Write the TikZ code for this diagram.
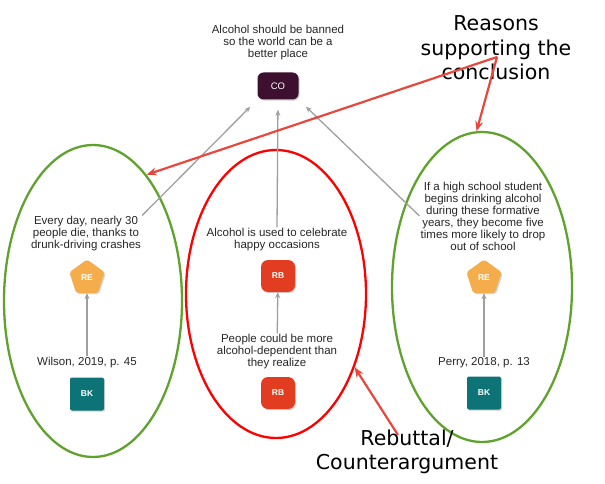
\documentclass[tikz,border=0pt]{standalone}
\usepackage{fontspec}
\setmainfont{Liberation Sans}
\newfontfamily\bigfont{DejaVu Sans}
\usetikzlibrary{arrows.meta,shapes.geometric,shadows}

\begin{document}
\begin{tikzpicture}[x=1pt, y=-1pt, >=Stealth,
    txt/.style={align=center, text=black!85, inner sep=1pt,
        font=\fontsize{11.5}{12}\selectfont},
    bigtxt/.style={align=center, font=\bigfont\fontsize{20.5}{24.5}\selectfont},
    badge/.style={text=white, inner sep=0pt, font=\bfseries\fontsize{8.5}{9}\selectfont,
        drop shadow={opacity=0.35, shadow xshift=1.2pt, shadow yshift=-1.2pt}},
    rebox/.style={badge, fill=colorRE, regular polygon, regular polygon sides=5,
        minimum size=37pt, rounded corners=2pt},
    rbbox/.style={badge, fill=colorRB, minimum width=34pt, minimum height=32pt, rounded corners=7pt},
    bkbox/.style={badge, fill=colorBK, minimum width=34pt, minimum height=33pt, rounded corners=2pt},
    group/.style={ellipse, draw=#1, line width=2.3pt, inner sep=0pt},
    conn/.style={->, draw=gray!75, line width=1.3pt, >={Stealth[length=6pt, width=5pt]}},
    callout/.style={->, draw=colorArrow, line width=2.2pt, >={Stealth[length=10pt, width=8pt]}}
]
    % Màu sắc
    \definecolor{colorCO}{RGB}{61, 16, 48}
    \definecolor{colorRE}{RGB}{245, 173, 75}
    \definecolor{colorRB}{RGB}{226, 61, 32}
    \definecolor{colorBK}{RGB}{14, 115, 118}
    \definecolor{colorGroup}{RGB}{95, 162, 46}
    \definecolor{colorArrow}{RGB}{232, 71, 62}

    \useasboundingbox (0,0) rectangle (605,484);

    % 1. Các nhóm (ellipse)
    \node[group=colorGroup, minimum width=178pt, minimum height=312pt] (ellL) at (93,301) {};
    \node[group=red, minimum width=180pt, minimum height=288pt] (ellM) at (276,294) {};
    \node[group=colorGroup, minimum width=180pt, minimum height=310pt] (ellR) at (482,287) {};

    % 2. Kết luận
    \node[txt] (claim) at (278,43) {Alcohol should be banned\\so the world can be a\\better place};
    \node[badge, fill=colorCO, minimum width=41pt, minimum height=27pt, rounded corners=6pt,
        font=\fontsize{9.5}{10}\selectfont] (co) at (278,86) {CO};

    % 3. Nhóm trái
    \node[txt] (everyL) at (86,234) {Every day, nearly 30\\people die, thanks to\\drunk-driving crashes};
    \node[rebox] (reL) at (87,278) {RE};
    \node[txt] (wilson) at (87,363) {Wilson, 2019, p. 45};
    \node[bkbox] (bkL) at (87,394) {BK};

    % 4. Nhóm giữa
    \node[txt] (celebrate) at (277,240) {Alcohol is used to celebrate\\happy occasions};
    \node[rbbox] (rbA) at (278,276) {RB};
    \node[txt] (people) at (277,352) {People could be more\\alcohol-dependent than\\they realize};
    \node[rbbox] (rbB) at (278,393) {RB};

    % 5. Nhóm phải
    \node[txt] (ifR) at (483,216) {If a high school student\\begins drinking alcohol\\during these formative\\years, they become five\\times more likely to drop\\out of school};
    \node[rebox] (reR) at (484,278) {RE};
    \node[txt] (perry) at (484,363) {Perry, 2018, p. 13};
    \node[bkbox] (bkR) at (484,393) {BK};

    % 6. Mũi tên xám
    \draw[conn] (wilson) -- (reL);
    \draw[conn] (people) -- (rbA);
    \draw[conn] (perry) -- (reR);
    \draw[conn, shorten >=10pt] (everyL.north east) -- (co.south west);
    \draw[conn, shorten >=10pt] (celebrate.north) -- (co.south);
    \draw[conn, shorten >=10pt] (ifR.west) -- (co.south east);

    % 7. Chú thích lớn
    \node[bigtxt] (reasons) at (496,48) {Reasons\\supporting the\\conclusion};
    \node[bigtxt] (rebuttal) at (407,452) {Rebuttal/\\Counterargument};
    \coordinate (reasonsTip) at (497,57);
    \coordinate (rebuttalTip) at (398,435);

    \draw[callout] (reasonsTip) -- (ellL.67);
    \draw[callout] (reasonsTip) -- (ellR.92);
    \draw[callout] (rebuttalTip) -- (ellM.-43);

\end{tikzpicture}
\end{document}
